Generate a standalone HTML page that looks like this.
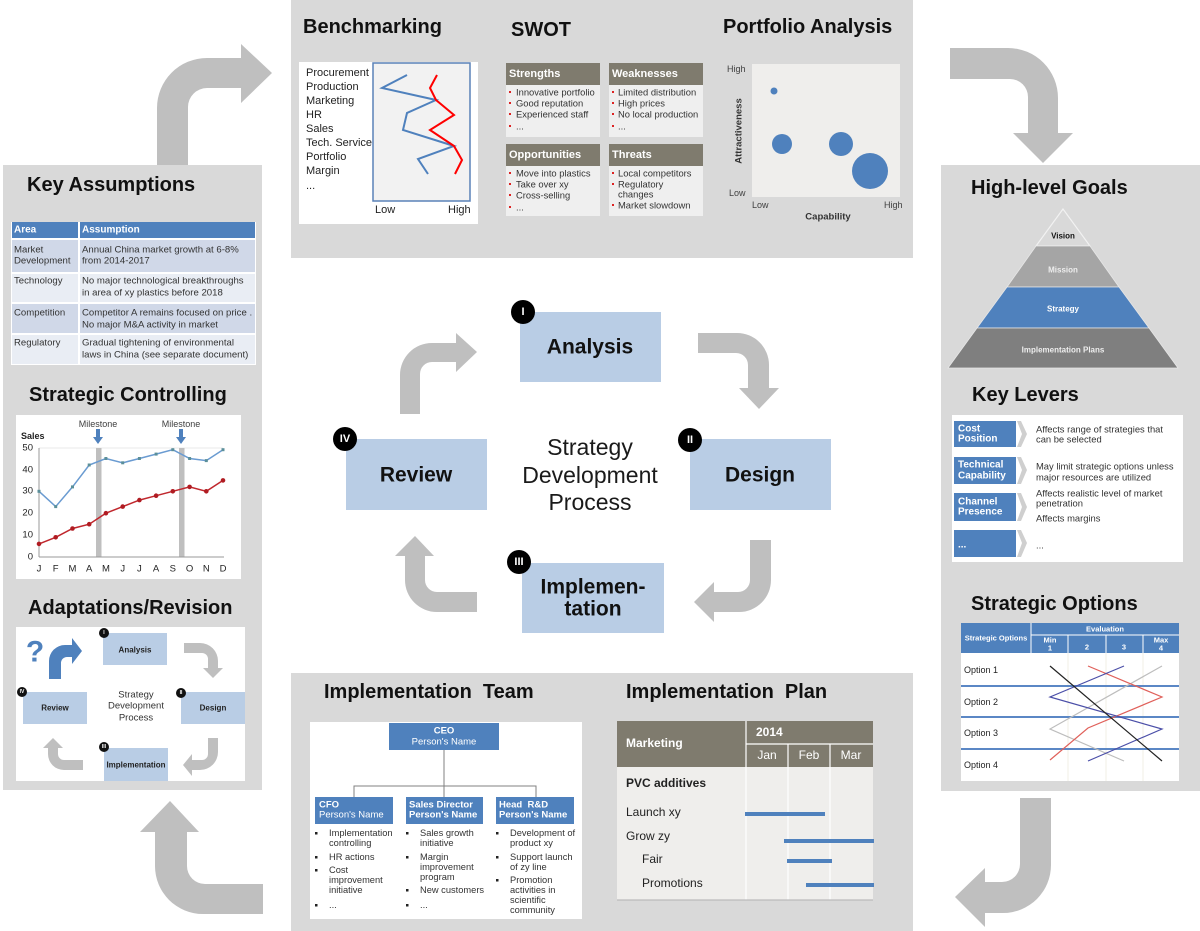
<!DOCTYPE html>
<html><head><meta charset="utf-8">
<style>
html,body{margin:0;padding:0;background:#fff;}
svg{display:block;}
.t{font-weight:bold;font-size:20px;fill:#111;}
text{dominant-baseline:central;}
.s{font-size:9.6px;fill:#333;}
.w{fill:#fff;}
.b{font-weight:bold;}
</style></head>
<body>
<svg width="1200" height="931" viewBox="0 0 1200 931" font-family='"Liberation Sans", Arial, sans-serif'>
<!-- panels -->
<rect x="3" y="165" width="259" height="625" fill="#d9d9d9"/>
<rect x="291" y="0" width="622" height="258" fill="#d9d9d9"/>
<rect x="941" y="165" width="259" height="626" fill="#d9d9d9"/>
<rect x="291" y="673" width="622" height="258" fill="#d9d9d9"/>

<!-- big arrows -->
<g fill="#bfbfbf">
<path d="M157,165 L157,108 A50,50 0 0 1 207,58 L241,58 L241,44 L272,73 L241,103 L241,88 L207,88 A19,19 0 0 0 188,107 L188,165 Z"/>
<path d="M950,48 L1008,48 A50,50 0 0 1 1058,98 L1058,133 L1073,133 L1043,163 L1013,133 L1028,133 L1028,97 A18,18 0 0 0 1010,79 L950,79 Z"/>
<path d="M1020,798 L1051,798 L1051,865 A48,48 0 0 1 1003,913 L985,913 L985,927 L955,897 L985,868 L985,882 L1002,882 A18,18 0 0 0 1020,864 Z"/>
<path d="M263,884 L205,884 A18,18 0 0 1 187,866 L187,832 L199,832 L170,801 L140,832 L155,832 L155,866 A48,48 0 0 0 203,914 L263,914 Z"/>
</g>

<!-- ============ TOP PANEL ============ -->
<text class="t" x="303" y="27">Benchmarking</text>
<text class="t" x="511" y="30">SWOT</text>
<text class="t" x="723" y="27">Portfolio Analysis</text>

<!-- Benchmarking -->
<rect x="299" y="62" width="179" height="162" fill="#fff"/>
<rect x="373" y="63" width="97" height="138" fill="#f2f2f2" stroke="#5a82b8" stroke-width="1.5"/>
<g font-size="11" fill="#222">
<text x="306" y="73">Procurement</text>
<text x="306" y="87">Production</text>
<text x="306" y="101">Marketing</text>
<text x="306" y="115">HR</text>
<text x="306" y="129">Sales</text>
<text x="306" y="143">Tech. Service</text>
<text x="306" y="157">Portfolio</text>
<text x="306" y="171">Margin</text>
<text x="306" y="186">...</text>
<text x="375" y="210">Low</text>
<text x="448" y="210">High</text>
</g>
<polyline points="407,75 382,88 436,100 407,113 403,130 454,146 418,159 428,174" fill="none" stroke="#4f81bd" stroke-width="2"/>
<polyline points="437,75 430,88 436,100 454,115 430,130 454,146 462,160 455,174" fill="none" stroke="#ff0000" stroke-width="2"/>

<!-- SWOT -->
<g>
<rect x="506" y="63" width="94" height="22" fill="#7f7b6e"/>
<rect x="506" y="85" width="94" height="52" fill="#efefef"/>
<rect x="609" y="63" width="94" height="22" fill="#7f7b6e"/>
<rect x="609" y="85" width="94" height="52" fill="#efefef"/>
<rect x="506" y="144" width="94" height="22" fill="#7f7b6e"/>
<rect x="506" y="166" width="94" height="50" fill="#efefef"/>
<rect x="609" y="144" width="94" height="22" fill="#7f7b6e"/>
<rect x="609" y="166" width="94" height="50" fill="#efefef"/>
<g font-size="11" font-weight="bold" fill="#fff">
<text x="509" y="74">Strengths</text>
<text x="612" y="74">Weaknesses</text>
<text x="509" y="155">Opportunities</text>
<text x="612" y="155">Threats</text>
</g>
<g fill="#d22">
<rect x="509" y="91" width="2" height="2"/><rect x="509" y="102" width="2" height="2"/><rect x="509" y="113" width="2" height="2"/><rect x="509" y="125" width="2" height="2"/>
<rect x="612" y="91" width="2" height="2"/><rect x="612" y="102" width="2" height="2"/><rect x="612" y="113" width="2" height="2"/><rect x="612" y="125" width="2" height="2"/>
<rect x="509" y="172" width="2" height="2"/><rect x="509" y="183" width="2" height="2"/><rect x="509" y="194" width="2" height="2"/><rect x="509" y="206" width="2" height="2"/>
<rect x="612" y="172" width="2" height="2"/><rect x="612" y="183" width="2" height="2"/><rect x="612" y="204" width="2" height="2"/>
</g>
<g font-size="9.4" fill="#333">
<text x="516" y="92">Innovative portfolio</text>
<text x="516" y="103">Good reputation</text>
<text x="516" y="114">Experienced staff</text>
<text x="516" y="126">...</text>
<text x="618" y="92">Limited distribution</text>
<text x="618" y="103">High prices</text>
<text x="618" y="114">No local production</text>
<text x="618" y="126">...</text>
<text x="516" y="173">Move into plastics</text>
<text x="516" y="184">Take over xy</text>
<text x="516" y="195">Cross-selling</text>
<text x="516" y="207">...</text>
<text x="618" y="173">Local competitors</text>
<text x="618" y="184">Regulatory</text>
<text x="618" y="194">changes</text>
<text x="618" y="205">Market slowdown</text>
</g>
</g>

<!-- Portfolio -->
<rect x="752" y="64" width="148" height="133" fill="#efeeec"/>
<g font-size="9" fill="#404040">
<text x="727" y="69">High</text>
<text x="729" y="193">Low</text>
<text x="752" y="205">Low</text>
<text x="884" y="205">High</text>
</g>
<text x="828" y="217" font-size="9.5" font-weight="bold" fill="#333" text-anchor="middle">Capability</text>
<text transform="translate(739,131) rotate(-90)" x="0" y="0" font-size="9.5" font-weight="bold" fill="#333" text-anchor="middle">Attractiveness</text>
<g fill="#4f81bd">
<circle cx="774" cy="91" r="3.5"/>
<circle cx="782" cy="144" r="10"/>
<circle cx="841" cy="144" r="12"/>
<circle cx="870" cy="171" r="18"/>
</g>

<!-- ============ LEFT PANEL ============ -->
<text class="t" x="27" y="185">Key Assumptions</text>
<rect x="11" y="222" width="245" height="143" fill="#fff"/>
<rect x="12" y="222" width="66" height="16" fill="#4f81bd"/>
<rect x="80" y="222" width="175" height="16" fill="#4f81bd"/>
<rect x="12" y="240" width="66" height="32" fill="#d0d8e8"/>
<rect x="80" y="240" width="175" height="32" fill="#d0d8e8"/>
<rect x="12" y="274" width="66" height="28" fill="#e9edf4"/>
<rect x="80" y="274" width="175" height="28" fill="#e9edf4"/>
<rect x="12" y="304" width="66" height="29" fill="#d0d8e8"/>
<rect x="80" y="304" width="175" height="29" fill="#d0d8e8"/>
<rect x="12" y="335" width="66" height="29" fill="#e9edf4"/>
<rect x="80" y="335" width="175" height="29" fill="#e9edf4"/>
<g font-size="10" font-weight="bold" fill="#fff">
<text x="14" y="230">Area</text>
<text x="82" y="230">Assumption</text>
</g>
<g font-size="9.6" fill="#333">
<text x="14" y="250">Market</text>
<text x="14" y="261">Development</text>
<text x="82" y="250">Annual China market growth at 6-8%</text>
<text x="82" y="261">from 2014-2017</text>
<text x="14" y="281">Technology</text>
<text x="82" y="281">No major technological breakthroughs</text>
<text x="82" y="293">in area of xy plastics before 2018</text>
<text x="14" y="313">Competition</text>
<text x="82" y="313">Competitor A remains focused on price .</text>
<text x="82" y="325">No major M&amp;A activity in market</text>
<text x="14" y="343">Regulatory</text>
<text x="82" y="343">Gradual tightening of environmental</text>
<text x="82" y="355">laws in China (see separate document)</text>
</g>

<text class="t" x="29" y="395">Strategic Controlling</text>
<rect x="16" y="415" width="225" height="164" fill="#fff"/>
<g stroke="#e8e8e8" stroke-width="1">
<line x1="39" y1="448" x2="223" y2="448"/>
</g>
<rect x="96" y="448" width="5.5" height="109" fill="#bfbfbf"/>
<rect x="179" y="448" width="5.5" height="109" fill="#bfbfbf"/>
<line x1="39" y1="448" x2="39" y2="557" stroke="#999" stroke-width="1"/>
<line x1="39" y1="557" x2="224" y2="557" stroke="#999" stroke-width="1"/>
<g font-size="9" fill="#404040" text-anchor="middle">
<text x="98" y="424">Milestone</text>
<text x="181" y="424">Milestone</text>
</g>
<g fill="#4f81bd">
<path d="M96,429 L100,429 L100,437 L103,437 L98,444 L93,437 L96,437 Z"/>
<path d="M179,429 L183,429 L183,437 L186,437 L181,444 L176,437 L179,437 Z"/>
</g>
<text x="21" y="436" font-size="9" font-weight="bold" fill="#222">Sales</text>
<g font-size="9.5" fill="#222" text-anchor="end">
<text x="33" y="448">50</text>
<text x="33" y="470">40</text>
<text x="33" y="491">30</text>
<text x="33" y="513">20</text>
<text x="33" y="535">10</text>
<text x="33" y="557">0</text>
</g>
<g font-size="9.5" fill="#222" text-anchor="middle">
<text x="39" y="569">J</text><text x="55.7" y="569">F</text><text x="72.5" y="569">M</text><text x="89.2" y="569">A</text>
<text x="105.9" y="569">M</text><text x="122.7" y="569">J</text><text x="139.4" y="569">J</text><text x="156.1" y="569">A</text>
<text x="172.8" y="569">S</text><text x="189.6" y="569">O</text><text x="206.3" y="569">N</text><text x="223" y="569">D</text>
</g>
<polyline points="39,491.3 55.7,506.6 72.5,486.9 89.2,465 105.9,458.5 122.7,462.8 139.4,458.5 156.1,454.1 172.8,449.7 189.6,458.5 206.3,460.6 223,449.7" fill="none" stroke="#6a9bd1" stroke-width="1.5"/>
<g fill="#5b8f9a">
<rect x="37.5" y="489.8" width="3" height="3"/><rect x="54.2" y="505.1" width="3" height="3"/><rect x="71" y="485.4" width="3" height="3"/><rect x="87.7" y="463.5" width="3" height="3"/>
<rect x="104.4" y="457" width="3" height="3"/><rect x="121.2" y="461.3" width="3" height="3"/><rect x="137.9" y="457" width="3" height="3"/><rect x="154.6" y="452.6" width="3" height="3"/>
<rect x="171.3" y="448.2" width="3" height="3"/><rect x="188.1" y="457" width="3" height="3"/><rect x="204.8" y="459.1" width="3" height="3"/><rect x="221.5" y="448.2" width="3" height="3"/>
</g>
<polyline points="39,543.9 55.7,537.3 72.5,528.5 89.2,524.2 105.9,513.2 122.7,506.6 139.4,500.1 156.1,495.7 172.8,491.3 189.6,486.9 206.3,491.3 223,480.4" fill="none" stroke="#c0272d" stroke-width="1.5"/>
<g fill="#b01c22">
<circle cx="39" cy="543.9" r="2.3"/><circle cx="55.7" cy="537.3" r="2.3"/><circle cx="72.5" cy="528.5" r="2.3"/><circle cx="89.2" cy="524.2" r="2.3"/>
<circle cx="105.9" cy="513.2" r="2.3"/><circle cx="122.7" cy="506.6" r="2.3"/><circle cx="139.4" cy="500.1" r="2.3"/><circle cx="156.1" cy="495.7" r="2.3"/>
<circle cx="172.8" cy="491.3" r="2.3"/><circle cx="189.6" cy="486.9" r="2.3"/><circle cx="206.3" cy="491.3" r="2.3"/><circle cx="223" cy="480.4" r="2.3"/>
</g>

<text class="t" x="28" y="608">Adaptations/Revision</text>
<rect x="16" y="627" width="229" height="154" fill="#fff"/>
<g fill="#b9cde5">
<rect x="103" y="633" width="64" height="32"/>
<rect x="181" y="692" width="64" height="32"/>
<rect x="23" y="692" width="64" height="32"/>
<rect x="104" y="748" width="64" height="33"/>
</g>
<g fill="#bfbfbf">
<path d="M184,643 L200,643 A18,18 0 0 1 218,661 L218,668 L223,668 L213,678 L203,668 L208,668 L208,659 A6,6 0 0 0 202,653 L184,653 Z"/>
<path d="M208,738 L218,738 L218,752 A18,18 0 0 1 200,770 L192,770 L192,776 L183,765 L192,754 L192,760 L202,760 A6,6 0 0 0 208,754 Z"/>
<path d="M83,760 L64,760 A6,6 0 0 1 58,754 L58,748 L63,748 L53,738 L43,748 L48,748 L48,754 A16,16 0 0 0 64,770 L83,770 Z"/>
</g>
<path d="M49,679 L49,661 A16,16 0 0 1 65,645 L72,645 L72,638 L82,651 L72,664 L72,657 L67,657 A6,6 0 0 0 61,663 L61,679 Z" fill="#4f81bd"/>
<text x="35" y="652" font-size="30" font-weight="bold" fill="#4f81bd" text-anchor="middle">?</text>
<g fill="#111">
<circle cx="104" cy="633" r="5"/><circle cx="181" cy="693" r="5"/><circle cx="22" cy="692" r="5"/><circle cx="104" cy="747" r="5"/>
</g>
<g font-size="5" font-weight="bold" fill="#fff" text-anchor="middle">
<text x="104" y="633">I</text><text x="181" y="693">II</text><text x="22" y="692">IV</text><text x="104" y="747">III</text>
</g>
<g font-size="8" font-weight="bold" fill="#222" text-anchor="middle">
<text x="135" y="650">Analysis</text>
<text x="213" y="708">Design</text>
<text x="55" y="708">Review</text>
<text x="136" y="765">Implementation</text>
</g>
<g font-size="9.5" fill="#333" text-anchor="middle">
<text x="136" y="695">Strategy</text>
<text x="136" y="706">Development</text>
<text x="136" y="718">Process</text>
</g>

<!-- ============ RIGHT PANEL ============ -->
<text class="t" x="971" y="188">High-level Goals</text>
<polygon points="1063,209 1036,246 1090,246" fill="#d9d9d9" stroke="#f2f2f2" stroke-width="1.2"/>
<polygon points="1036,246 1090,246 1119,287 1007,287" fill="#a5a5a5" stroke="#e6e6e6" stroke-width="0.8"/>
<polygon points="1007,287 1119,287 1149,328 977,328" fill="#4f81bd" stroke="#e6e6e6" stroke-width="0.8"/>
<polygon points="977,328 1149,328 1178,368 948,368" fill="#7f7f7f" stroke="#e6e6e6" stroke-width="0.8"/>
<g font-size="8" font-weight="bold" text-anchor="middle">
<text x="1063" y="236" fill="#111">Vision</text>
<text x="1063" y="270" fill="#eee">Mission</text>
<text x="1063" y="309" fill="#fff">Strategy</text>
<text x="1063" y="350" fill="#eee">Implementation Plans</text>
</g>

<text class="t" x="972" y="395">Key Levers</text>
<rect x="952" y="415" width="231" height="147" fill="#fff"/>
<g fill="#4f81bd">
<rect x="954" y="421" width="62" height="26"/>
<rect x="954" y="457" width="62" height="27"/>
<rect x="954" y="493" width="62" height="28"/>
<rect x="954" y="530" width="62" height="27"/>
</g>
<g fill="#cfcfcf">
<polygon points="1017,421 1021,421 1027,434 1021,447 1017,447 1022,434"/>
<polygon points="1017,457 1021,457 1027,470 1021,484 1017,484 1022,470"/>
<polygon points="1017,493 1021,493 1027,507 1021,521 1017,521 1022,507"/>
<polygon points="1017,530 1021,530 1027,543 1021,557 1017,557 1022,543"/>
</g>
<g font-size="10" font-weight="bold" fill="#fff">
<text x="958" y="429">Cost</text><text x="958" y="439">Position</text>
<text x="958" y="465">Technical</text><text x="958" y="476">Capability</text>
<text x="958" y="502">Channel</text><text x="958" y="512">Presence</text>
<text x="958" y="545">...</text>
</g>
<g font-size="9.4" fill="#333">
<text x="1036" y="429">Affects range of strategies that</text>
<text x="1036" y="439">can be selected</text>
<text x="1036" y="466">May limit strategic options unless</text>
<text x="1036" y="477">major resources are utilized</text>
<text x="1036" y="493">Affects realistic level of market</text>
<text x="1036" y="503">penetration</text>
<text x="1036" y="518">Affects margins</text>
<text x="1036" y="545">...</text>
</g>

<text class="t" x="971" y="604">Strategic Options</text>
<rect x="961" y="623" width="218" height="158" fill="#fff"/>
<rect x="961" y="623" width="218" height="30" fill="#4f81bd"/>
<g stroke="#fff" stroke-width="1">
<line x1="1031" y1="623" x2="1031" y2="653"/>
<line x1="1031" y1="635" x2="1179" y2="635"/>
<line x1="1068" y1="635" x2="1068" y2="653"/>
<line x1="1106" y1="635" x2="1106" y2="653"/>
<line x1="1143" y1="635" x2="1143" y2="653"/>
</g>
<g stroke="#f0efe6" stroke-width="1">
<line x1="1068" y1="653" x2="1068" y2="781"/>
<line x1="1106" y1="653" x2="1106" y2="781"/>
<line x1="1143" y1="653" x2="1143" y2="781"/>
</g>
<g stroke="#5b87c5" stroke-width="2">
<line x1="961" y1="686" x2="1179" y2="686"/>
<line x1="961" y1="717" x2="1179" y2="717"/>
<line x1="961" y1="749" x2="1179" y2="749"/>
</g>
<g font-size="7.5" font-weight="bold" fill="#fff" text-anchor="middle">
<text x="996" y="638">Strategic Options</text>
<text x="1105" y="629">Evaluation</text>
<text x="1050" y="640">Min</text><text x="1050" y="648">1</text>
<text x="1087" y="647">2</text>
<text x="1124" y="647">3</text>
<text x="1161" y="640">Max</text><text x="1161" y="648">4</text>
</g>
<g font-size="9" fill="#222">
<text x="964" y="670">Option 1</text>
<text x="964" y="702">Option 2</text>
<text x="964" y="733">Option 3</text>
<text x="964" y="765">Option 4</text>
</g>
<g fill="none" stroke-width="1.2">
<polyline points="1162,666 1050,729 1124,761" stroke="#bdbdbd"/>
<polyline points="1088,666 1162,697 1088,728 1050,760" stroke="#e0605a"/>
<polyline points="1124,666 1050,697 1162,729 1088,761" stroke="#4b4fa8"/>
<polyline points="1050,666 1162,761" stroke="#222"/>
</g>

<!-- ============ BOTTOM PANEL ============ -->
<text class="t" x="324" y="692" xml:space="preserve">Implementation  Team</text>
<text class="t" x="626" y="692" xml:space="preserve">Implementation  Plan</text>

<rect x="310" y="722" width="272" height="197" fill="#fff"/>
<g stroke="#808080" stroke-width="1" fill="none">
<line x1="444" y1="750" x2="444" y2="797"/>
<polyline points="354,797 354,786 536,786 536,797"/>
</g>
<g fill="#4f81bd">
<rect x="389" y="723" width="110" height="27"/>
<rect x="315" y="797" width="78" height="27"/>
<rect x="406" y="797" width="77" height="27"/>
<rect x="496" y="797" width="78" height="27"/>
</g>
<g font-size="9.5" fill="#fff">
<text x="444" y="731" text-anchor="middle" font-weight="bold">CEO</text>
<text x="444" y="742" text-anchor="middle">Person's Name</text>
<text x="319" y="805" font-weight="bold">CFO</text>
<text x="319" y="815">Person's Name</text>
<text x="409" y="805" font-weight="bold">Sales Director</text>
<text x="409" y="815" font-weight="bold">Person's Name</text>
<text x="499" y="805" font-weight="bold" xml:space="preserve">Head  R&amp;D</text>
<text x="499" y="815" font-weight="bold">Person's Name</text>
</g>
<g fill="#222">
<rect x="315" y="832" width="2.5" height="2.5"/><rect x="315" y="856" width="2.5" height="2.5"/><rect x="315" y="869" width="2.5" height="2.5"/><rect x="315" y="904" width="2.5" height="2.5"/>
<rect x="406" y="832" width="2.5" height="2.5"/><rect x="406" y="856" width="2.5" height="2.5"/><rect x="406" y="889" width="2.5" height="2.5"/><rect x="406" y="904" width="2.5" height="2.5"/>
<rect x="496" y="832" width="2.5" height="2.5"/><rect x="496" y="856" width="2.5" height="2.5"/><rect x="496" y="879" width="2.5" height="2.5"/>
</g>
<g font-size="9.3" fill="#333">
<text x="329" y="833">Implementation</text>
<text x="329" y="843">controlling</text>
<text x="329" y="857">HR actions</text>
<text x="329" y="870">Cost</text>
<text x="329" y="880">improvement</text>
<text x="329" y="890">initiative</text>
<text x="329" y="905">...</text>
<text x="420" y="833">Sales growth</text>
<text x="420" y="843">initiative</text>
<text x="420" y="857">Margin</text>
<text x="420" y="867">improvement</text>
<text x="420" y="877">program</text>
<text x="420" y="890">New customers</text>
<text x="420" y="905">...</text>
<text x="510" y="833">Development of</text>
<text x="510" y="843">product xy</text>
<text x="510" y="857">Support launch</text>
<text x="510" y="867">of zy line</text>
<text x="510" y="880">Promotion</text>
<text x="510" y="890">activities in</text>
<text x="510" y="900">scientific</text>
<text x="510" y="910">community</text>
</g>

<!-- Gantt -->
<rect x="617" y="721" width="256" height="46" fill="#7f7b6e"/>
<rect x="617" y="767" width="256" height="133" fill="#efeeec"/>
<g stroke="#fff" stroke-width="1.2">
<line x1="746" y1="721" x2="746" y2="900"/>
<line x1="746" y1="744" x2="873" y2="744"/>
<line x1="788" y1="744" x2="788" y2="900"/>
<line x1="830" y1="744" x2="830" y2="900"/>
</g>
<line x1="617" y1="900" x2="873" y2="900" stroke="#bcbcbc" stroke-width="1.2"/>
<g font-size="12" fill="#fff">
<text x="626" y="743" font-weight="bold">Marketing</text>
<text x="756" y="732" font-weight="bold">2014</text>
<text x="767" y="755" text-anchor="middle">Jan</text>
<text x="809" y="755" text-anchor="middle">Feb</text>
<text x="851" y="755" text-anchor="middle">Mar</text>
</g>
<g font-size="12" fill="#222">
<text x="626" y="783" font-weight="bold">PVC additives</text>
<text x="626" y="812">Launch xy</text>
<text x="626" y="836">Grow zy</text>
<text x="642" y="859">Fair</text>
<text x="642" y="883">Promotions</text>
</g>
<g stroke="#4f81bd" stroke-width="4">
<line x1="745" y1="814" x2="825" y2="814"/>
<line x1="784" y1="841" x2="874" y2="841"/>
<line x1="787" y1="861" x2="832" y2="861"/>
<line x1="806" y1="885" x2="874" y2="885"/>
</g>

<!-- ============ CENTER ============ -->
<g fill="#bfbfbf">
<path d="M400,414 L400,375 A32,32 0 0 1 432,343 L456,343 L456,333 L477,352 L456,372 L456,362 L432,362 A12,12 0 0 0 420,374 L420,414 Z"/>
<path d="M698,333 L737,333 A32,32 0 0 1 769,365 L769,388 L779,388 L759,409 L739,388 L748,388 L748,365 A12,12 0 0 0 736,353 L698,353 Z"/>
<path d="M750,540 L771,540 L771,580 A32,32 0 0 1 739,612 L714,612 L714,622 L694,602 L714,582 L714,592 L738,592 A12,12 0 0 0 750,580 Z"/>
<path d="M477,592 L437,592 A12,12 0 0 1 425,580 L425,556 L434,556 L415,536 L395,556 L405,556 L405,580 A32,32 0 0 0 437,612 L477,612 Z"/>
</g>
<g fill="#b9cde5">
<rect x="520" y="312" width="141" height="70"/>
<rect x="690" y="439" width="141" height="71"/>
<rect x="346" y="439" width="141" height="71"/>
<rect x="522" y="563" width="142" height="70"/>
</g>
<g font-size="21" font-weight="bold" fill="#111" text-anchor="middle">
<text x="590" y="347">Analysis</text>
<text x="760" y="475">Design</text>
<text x="416" y="475">Review</text>
<text x="593" y="587">Implemen-</text>
<text x="593" y="609">tation</text>
</g>
<g font-size="23" fill="#1a1a1a" text-anchor="middle">
<text x="590" y="447">Strategy</text>
<text x="590" y="475">Development</text>
<text x="590" y="502">Process</text>
</g>
<g fill="#000">
<circle cx="523" cy="312" r="12"/>
<circle cx="690" cy="440" r="12"/>
<circle cx="519" cy="562" r="12"/>
<circle cx="345" cy="439" r="12"/>
</g>
<g font-size="11" font-weight="bold" fill="#fff" text-anchor="middle">
<text x="523" y="312">I</text>
<text x="690" y="440">II</text>
<text x="519" y="562">III</text>
<text x="345" y="439">IV</text>
</g>
</svg>
</body></html>
